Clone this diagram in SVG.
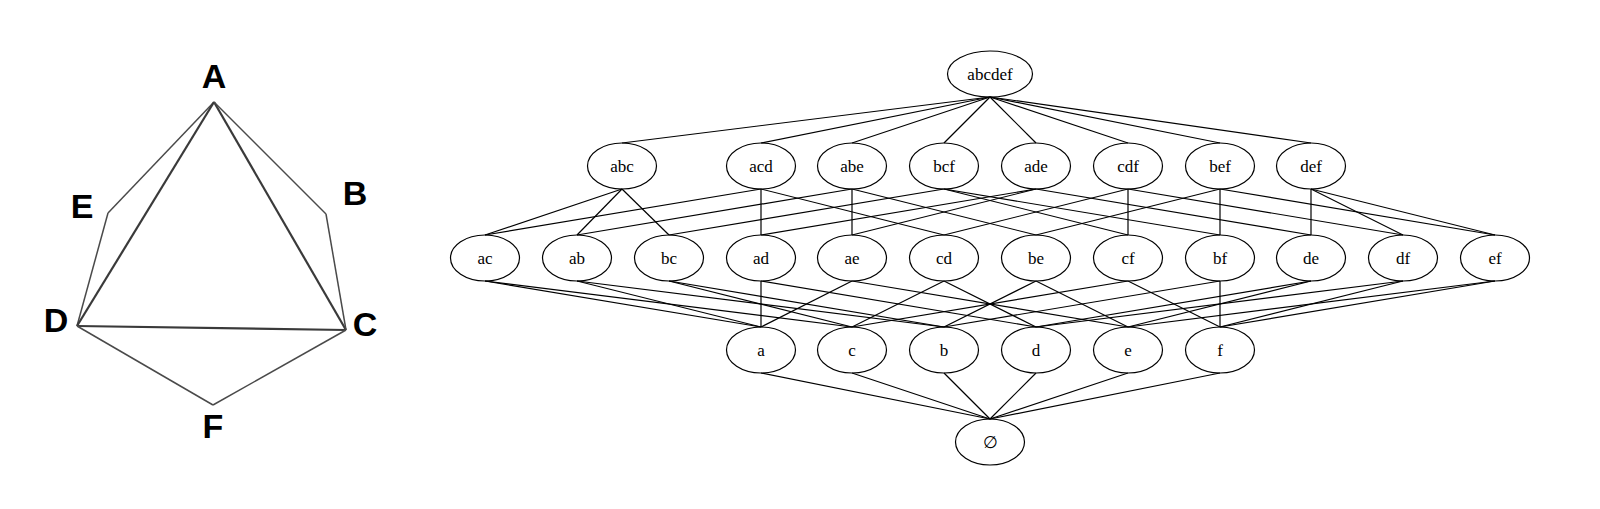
<svg xmlns="http://www.w3.org/2000/svg" width="1600" height="509" viewBox="0 0 1600 509">
<style>
.g line{stroke:#4a4a4a;stroke-width:1.5;fill:none}
.g .thick{stroke-width:2.2;stroke:#3a3a3a}
.lbl{font-family:"Liberation Sans",Arial,sans-serif;font-weight:bold;font-size:34px;fill:#000;text-anchor:middle}
.n ellipse{fill:none;stroke:#000;stroke-width:1.2}
.n text{font-family:"Liberation Serif","Times New Roman",serif;font-size:17px;fill:#000;text-anchor:middle}
#edges line{stroke:#000;stroke-width:1.2}
</style>
<rect width="1600" height="509" fill="#fff"/>
<g id="hypergraph" class="g">
<line x1="214" y1="102" x2="108" y2="213"/>
<line x1="108" y1="213" x2="77" y2="326"/>
<line class="thick" x1="214" y1="102" x2="77" y2="326"/>
<line class="thick" x1="214" y1="102" x2="346" y2="330"/>
<line x1="214" y1="102" x2="326" y2="214"/>
<line x1="326" y1="214" x2="346" y2="330"/>
<line class="thick" x1="77" y1="326" x2="346" y2="330"/>
<line x1="77" y1="326" x2="213" y2="405"/>
<line x1="213" y1="405" x2="346" y2="330"/>
<text class="lbl" x="214" y="88">A</text>
<text class="lbl" x="82" y="218">E</text>
<text class="lbl" x="355" y="205">B</text>
<text class="lbl" x="56" y="332">D</text>
<text class="lbl" x="365" y="336">C</text>
<text class="lbl" x="213" y="438">F</text>
</g>
<g id="edges">
<line x1="990" y1="97" x2="622" y2="143"/>
<line x1="990" y1="97" x2="761" y2="143"/>
<line x1="990" y1="97" x2="852" y2="143"/>
<line x1="990" y1="97" x2="944" y2="143"/>
<line x1="990" y1="97" x2="1036" y2="143"/>
<line x1="990" y1="97" x2="1128" y2="143"/>
<line x1="990" y1="97" x2="1220" y2="143"/>
<line x1="990" y1="97" x2="1311" y2="143"/>
<line x1="622" y1="189" x2="485" y2="235"/>
<line x1="622" y1="189" x2="577" y2="235"/>
<line x1="622" y1="189" x2="669" y2="235"/>
<line x1="761" y1="189" x2="485" y2="235"/>
<line x1="761" y1="189" x2="761" y2="235"/>
<line x1="761" y1="189" x2="944" y2="235"/>
<line x1="852" y1="189" x2="577" y2="235"/>
<line x1="852" y1="189" x2="852" y2="235"/>
<line x1="852" y1="189" x2="1036" y2="235"/>
<line x1="944" y1="189" x2="669" y2="235"/>
<line x1="944" y1="189" x2="1128" y2="235"/>
<line x1="944" y1="189" x2="1220" y2="235"/>
<line x1="1036" y1="189" x2="761" y2="235"/>
<line x1="1036" y1="189" x2="852" y2="235"/>
<line x1="1036" y1="189" x2="1311" y2="235"/>
<line x1="1128" y1="189" x2="944" y2="235"/>
<line x1="1128" y1="189" x2="1128" y2="235"/>
<line x1="1128" y1="189" x2="1403" y2="235"/>
<line x1="1220" y1="189" x2="1036" y2="235"/>
<line x1="1220" y1="189" x2="1220" y2="235"/>
<line x1="1220" y1="189" x2="1495" y2="235"/>
<line x1="1311" y1="189" x2="1311" y2="235"/>
<line x1="1311" y1="189" x2="1403" y2="235"/>
<line x1="1311" y1="189" x2="1495" y2="235"/>
<line x1="485" y1="281" x2="761" y2="327"/>
<line x1="485" y1="281" x2="852" y2="327"/>
<line x1="577" y1="281" x2="761" y2="327"/>
<line x1="577" y1="281" x2="944" y2="327"/>
<line x1="669" y1="281" x2="944" y2="327"/>
<line x1="669" y1="281" x2="852" y2="327"/>
<line x1="761" y1="281" x2="761" y2="327"/>
<line x1="761" y1="281" x2="1036" y2="327"/>
<line x1="852" y1="281" x2="761" y2="327"/>
<line x1="852" y1="281" x2="1128" y2="327"/>
<line x1="944" y1="281" x2="852" y2="327"/>
<line x1="944" y1="281" x2="1036" y2="327"/>
<line x1="1036" y1="281" x2="944" y2="327"/>
<line x1="1036" y1="281" x2="1128" y2="327"/>
<line x1="1128" y1="281" x2="852" y2="327"/>
<line x1="1128" y1="281" x2="1220" y2="327"/>
<line x1="1220" y1="281" x2="944" y2="327"/>
<line x1="1220" y1="281" x2="1220" y2="327"/>
<line x1="1311" y1="281" x2="1036" y2="327"/>
<line x1="1311" y1="281" x2="1128" y2="327"/>
<line x1="1403" y1="281" x2="1036" y2="327"/>
<line x1="1403" y1="281" x2="1220" y2="327"/>
<line x1="1495" y1="281" x2="1128" y2="327"/>
<line x1="1495" y1="281" x2="1220" y2="327"/>
<line x1="761" y1="373" x2="990" y2="419"/>
<line x1="852" y1="373" x2="990" y2="419"/>
<line x1="944" y1="373" x2="990" y2="419"/>
<line x1="1036" y1="373" x2="990" y2="419"/>
<line x1="1128" y1="373" x2="990" y2="419"/>
<line x1="1220" y1="373" x2="990" y2="419"/>
</g>
<g id="n-abcdef" class="n"><ellipse cx="990" cy="74" rx="42.5" ry="23"/><text x="990" y="80">abcdef</text></g>
<g id="n-abc" class="n"><ellipse cx="622" cy="166" rx="34.5" ry="23"/><text x="622" y="172">abc</text></g>
<g id="n-acd" class="n"><ellipse cx="761" cy="166" rx="34.5" ry="23"/><text x="761" y="172">acd</text></g>
<g id="n-abe" class="n"><ellipse cx="852" cy="166" rx="34.5" ry="23"/><text x="852" y="172">abe</text></g>
<g id="n-bcf" class="n"><ellipse cx="944" cy="166" rx="34.5" ry="23"/><text x="944" y="172">bcf</text></g>
<g id="n-ade" class="n"><ellipse cx="1036" cy="166" rx="34.5" ry="23"/><text x="1036" y="172">ade</text></g>
<g id="n-cdf" class="n"><ellipse cx="1128" cy="166" rx="34.5" ry="23"/><text x="1128" y="172">cdf</text></g>
<g id="n-bef" class="n"><ellipse cx="1220" cy="166" rx="34.5" ry="23"/><text x="1220" y="172">bef</text></g>
<g id="n-def" class="n"><ellipse cx="1311" cy="166" rx="34.5" ry="23"/><text x="1311" y="172">def</text></g>
<g id="n-ac" class="n"><ellipse cx="485" cy="258" rx="34.5" ry="23"/><text x="485" y="264">ac</text></g>
<g id="n-ab" class="n"><ellipse cx="577" cy="258" rx="34.5" ry="23"/><text x="577" y="264">ab</text></g>
<g id="n-bc" class="n"><ellipse cx="669" cy="258" rx="34.5" ry="23"/><text x="669" y="264">bc</text></g>
<g id="n-ad" class="n"><ellipse cx="761" cy="258" rx="34.5" ry="23"/><text x="761" y="264">ad</text></g>
<g id="n-ae" class="n"><ellipse cx="852" cy="258" rx="34.5" ry="23"/><text x="852" y="264">ae</text></g>
<g id="n-cd" class="n"><ellipse cx="944" cy="258" rx="34.5" ry="23"/><text x="944" y="264">cd</text></g>
<g id="n-be" class="n"><ellipse cx="1036" cy="258" rx="34.5" ry="23"/><text x="1036" y="264">be</text></g>
<g id="n-cf" class="n"><ellipse cx="1128" cy="258" rx="34.5" ry="23"/><text x="1128" y="264">cf</text></g>
<g id="n-bf" class="n"><ellipse cx="1220" cy="258" rx="34.5" ry="23"/><text x="1220" y="264">bf</text></g>
<g id="n-de" class="n"><ellipse cx="1311" cy="258" rx="34.5" ry="23"/><text x="1311" y="264">de</text></g>
<g id="n-df" class="n"><ellipse cx="1403" cy="258" rx="34.5" ry="23"/><text x="1403" y="264">df</text></g>
<g id="n-ef" class="n"><ellipse cx="1495" cy="258" rx="34.5" ry="23"/><text x="1495" y="264">ef</text></g>
<g id="n-a" class="n"><ellipse cx="761" cy="350" rx="34.5" ry="23"/><text x="761" y="356">a</text></g>
<g id="n-c" class="n"><ellipse cx="852" cy="350" rx="34.5" ry="23"/><text x="852" y="356">c</text></g>
<g id="n-b" class="n"><ellipse cx="944" cy="350" rx="34.5" ry="23"/><text x="944" y="356">b</text></g>
<g id="n-d" class="n"><ellipse cx="1036" cy="350" rx="34.5" ry="23"/><text x="1036" y="356">d</text></g>
<g id="n-e" class="n"><ellipse cx="1128" cy="350" rx="34.5" ry="23"/><text x="1128" y="356">e</text></g>
<g id="n-f" class="n"><ellipse cx="1220" cy="350" rx="34.5" ry="23"/><text x="1220" y="356">f</text></g>
<g id="n-empty" class="n"><ellipse cx="990" cy="442" rx="34.5" ry="23"/><text x="990" y="448">∅</text></g>
</svg>
